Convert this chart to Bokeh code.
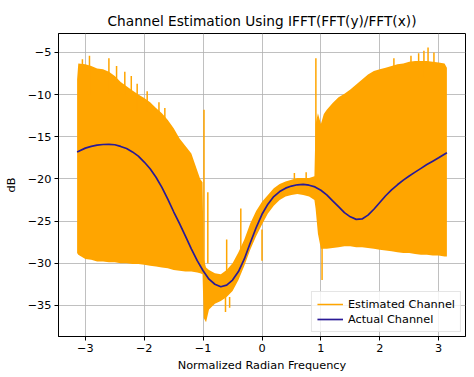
from bokeh.plotting import figure
from bokeh.models import ColumnDataSource, FixedTicker, Legend, LegendItem, Range1d
from bokeh.embed import file_html
from bokeh.resources import INLINE

# ---- data ----
est_x = [-3.14, -3.12, -3.0, -2.9, -2.8, -2.7, -2.6, -2.5, -2.4, -2.3, -2.2, -2.1,
         -2.0, -1.9, -1.8, -1.7, -1.6, -1.5, -1.4, -1.3, -1.2, -1.1, -1.05, -1.01,
         -0.99, -0.95, -0.9, -0.8, -0.7, -0.6, -0.5, -0.4, -0.3, -0.2, -0.1, 0.0,
         0.1, 0.2, 0.3, 0.4, 0.5, 0.6, 0.7, 0.8, 0.89, 0.91, 0.95, 1.0, 1.05, 1.1,
         1.2, 1.3, 1.4, 1.5, 1.6, 1.7, 1.8, 1.9, 2.0, 2.1, 2.2, 2.3, 2.4, 2.5, 2.6,
         2.7, 2.8, 2.9, 3.0, 3.1, 3.14]
est_upper = [-8.2, -6.3, -6.4, -6.6, -6.9, -7.0, -7.3, -7.8, -8.5, -9.0, -9.5, -10.0,
             -10.4, -10.9, -11.6, -12.2, -13.0, -14.0, -15.2, -16.1, -17.0, -19.0, -20.0, -20.4,
             -29.5, -30.5, -30.8, -31.2, -31.3, -30.8, -30.0, -28.7, -27.2, -25.3, -23.8, -22.7,
             -21.9, -21.1, -20.6, -20.3, -20.1, -19.9, -19.9, -19.9, -19.7, -13.5, -12.2, -13.5, -12.3, -11.8,
             -11.0, -10.3, -9.9, -9.4, -8.8, -8.2, -7.6, -7.2, -7.0, -6.8, -6.6, -6.4, -6.3, -6.1, -6.0,
             -6.0, -6.0, -6.1, -6.2, -6.3, -6.8]
est_lower = [-28.8, -29.0, -29.5, -29.6, -29.8, -29.8, -29.9, -29.9, -30.0, -30.0, -30.1, -30.1,
             -30.2, -30.3, -30.4, -30.5, -30.6, -30.8, -30.9, -31.0, -31.0, -31.1, -31.2, -31.3,
             -36.5, -37.0, -35.5, -34.8, -34.5, -34.0, -33.3, -32.0, -30.3, -28.4, -26.8, -25.4,
             -24.1, -23.2, -22.5, -22.1, -21.9, -21.8, -21.9, -22.1, -22.5, -23.5, -26.5, -28.3, -28.3, -28.3,
             -28.2, -28.1, -28.0, -28.0, -28.1, -28.1, -28.2, -28.3, -28.4, -28.5, -28.6, -28.7, -28.8, -28.8, -28.9,
             -29.0, -29.0, -29.1, -29.1, -29.2, -29.2]

spike_x = [-3.05, -2.93, -2.6, -2.47, -2.33, -2.22, -2.12, -1.95, -1.75, -1.65,
           -0.985, -0.92, -0.6, -0.36, 0.55, 0.75, 0.915, 2.24, 2.53, 2.66, 2.75, 2.82, 2.92,
           -0.62, -0.55, 0.0, 1.02]
spike_base = [-10, -10, -10, -10, -10, -10, -12, -12, -14, -14,
              -30, -30, -31, -29, -21, -21, -20, -8, -8, -8, -8, -8, -8,
              -34, -34, -26, -28]
spike_tip = [-5.8, -5.4, -5.7, -6.6, -7.3, -7.8, -8.7, -9.6, -10.9, -11.6,
             -11.8, -21.6, -27.2, -23.5, -19.3, -19.2, -5.7, -5.7, -5.4, -5.1, -4.8, -4.4, -5.0,
             -35.8, -35.3, -29.7, -32.0]

act_x = [-3.14, -3.0, -2.9, -2.8, -2.7, -2.6, -2.5, -2.4, -2.3, -2.2, -2.1, -2.0, -1.9,
         -1.8, -1.7, -1.6, -1.5, -1.4, -1.3, -1.2, -1.1, -1.0, -0.9, -0.8, -0.7, -0.6,
         -0.5, -0.4, -0.3, -0.2, -0.1, 0.0, 0.1, 0.2, 0.3, 0.4, 0.5, 0.6, 0.7, 0.8,
         0.9, 1.0, 1.1, 1.2, 1.3, 1.4, 1.5, 1.6, 1.7, 1.8, 1.9, 2.0, 2.1, 2.2, 2.3,
         2.4, 2.5, 2.6, 2.7, 2.8, 2.9, 3.0, 3.14]
act_y = [-16.8, -16.35, -16.15, -16.0, -15.92, -15.9, -15.95, -16.15, -16.4, -16.8, -17.3, -18.0, -18.8,
         -19.8, -21.0, -22.4, -23.9, -25.3, -26.8, -28.3, -29.7, -30.9, -31.9, -32.5, -32.8, -32.6,
         -32.0, -31.0, -29.5, -27.6, -25.8, -24.2, -23.0, -22.1, -21.5, -21.1, -20.85, -20.7, -20.65, -20.75,
         -20.95, -21.35, -21.9, -22.6, -23.3, -24.0, -24.5, -24.8, -24.75, -24.3, -23.6, -22.8, -22.0, -21.3, -20.7,
         -20.15, -19.65, -19.2, -18.75, -18.3, -17.9, -17.5, -16.9]

x_ticks = [-3, -2, -1, 0, 1, 2, 3]
x_tick_labels = ["\u22123", "\u22122", "\u22121", "0", "1", "2", "3"]
y_ticks = [-35, -30, -25, -20, -15, -10, -5]
y_tick_labels = ["\u221235", "\u221230", "\u221225", "\u221220", "\u221215", "\u221210", "\u22125"]

FONT = "DejaVu Sans"
ORANGE = "#FFA500"
BLUE = "#2a1a96"
FS = "11.3px"

p = figure(width=474, height=377, output_backend="svg", toolbar_location=None,
           x_range=Range1d(-3.456, 3.456), y_range=Range1d(-38.7, -2.75),
           min_border_left=58, min_border_right=9, min_border_top=33, min_border_bottom=41,
           title="Channel Estimation Using IFFT(FFT(y)/FFT(x))")

p.title.text_font = FONT
p.title.text_font_size = "13.7px"
p.title.text_font_style = "normal"
p.title.align = "center"
p.title.text_color = "black"

p.background_fill_color = "white"
p.border_fill_color = "white"
p.outline_line_color = "black"
p.outline_line_width = 1

for ax in (p.xaxis[0], p.yaxis[0]):
    ax.axis_label_text_font = FONT
    ax.axis_label_text_font_size = FS
    ax.axis_label_text_font_style = "normal"
    ax.axis_label_text_color = "black"
    ax.major_label_text_font = FONT
    ax.major_label_text_font_size = FS
    ax.major_label_text_color = "black"
    ax.axis_line_color = "black"
    ax.major_tick_line_color = "black"
    ax.major_tick_out = 4
    ax.major_tick_in = 0
    ax.minor_tick_line_color = None

p.xaxis.axis_label = "Normalized Radian Frequency"
p.yaxis.axis_label = "dB"
p.xaxis.ticker = FixedTicker(ticks=x_ticks)
p.yaxis.ticker = FixedTicker(ticks=y_ticks)
p.xaxis.major_label_overrides = dict(zip(x_ticks, x_tick_labels))
p.yaxis.major_label_overrides = dict(zip(y_ticks, y_tick_labels))
p.xaxis.major_label_standoff = 3
p.yaxis.major_label_standoff = 3
p.xaxis.axis_label_standoff = 4
p.yaxis.axis_label_standoff = 7

p.xgrid.ticker = FixedTicker(ticks=x_ticks)
p.ygrid.ticker = FixedTicker(ticks=y_ticks)
p.grid.grid_line_color = "#b0b0b0"
p.grid.grid_line_width = 0.8

band = ColumnDataSource(dict(x=est_x, top=est_upper, bottom=est_lower))
p.varea(x="x", y1="bottom", y2="top", source=band, fill_color=ORANGE)

spikes = ColumnDataSource(dict(x=spike_x, y0=spike_base, y1=spike_tip))
r_est = p.segment(x0="x", y0="y0", x1="x", y1="y1", source=spikes,
                  line_color=ORANGE, line_width=1.5)

act = ColumnDataSource(dict(x=act_x, y=act_y))
r_act = p.line(x="x", y="y", source=act, line_color=BLUE, line_width=1.7)

legend = Legend(items=[LegendItem(label="Estimated Channel", renderers=[r_est]),
                       LegendItem(label="Actual Channel", renderers=[r_act])],
                location="bottom_right")
legend.label_text_font = FONT
legend.label_text_font_size = FS
legend.label_text_color = "black"
legend.glyph_width = 26
legend.glyph_height = 14
legend.label_height = 14
legend.spacing = 1
legend.padding = 5
legend.margin = 4
legend.border_line_color = "#cccccc"
legend.border_line_width = 1
legend.background_fill_alpha = 0.8
p.add_layout(legend)

open("out.html", "w").write(file_html(p, INLINE))
